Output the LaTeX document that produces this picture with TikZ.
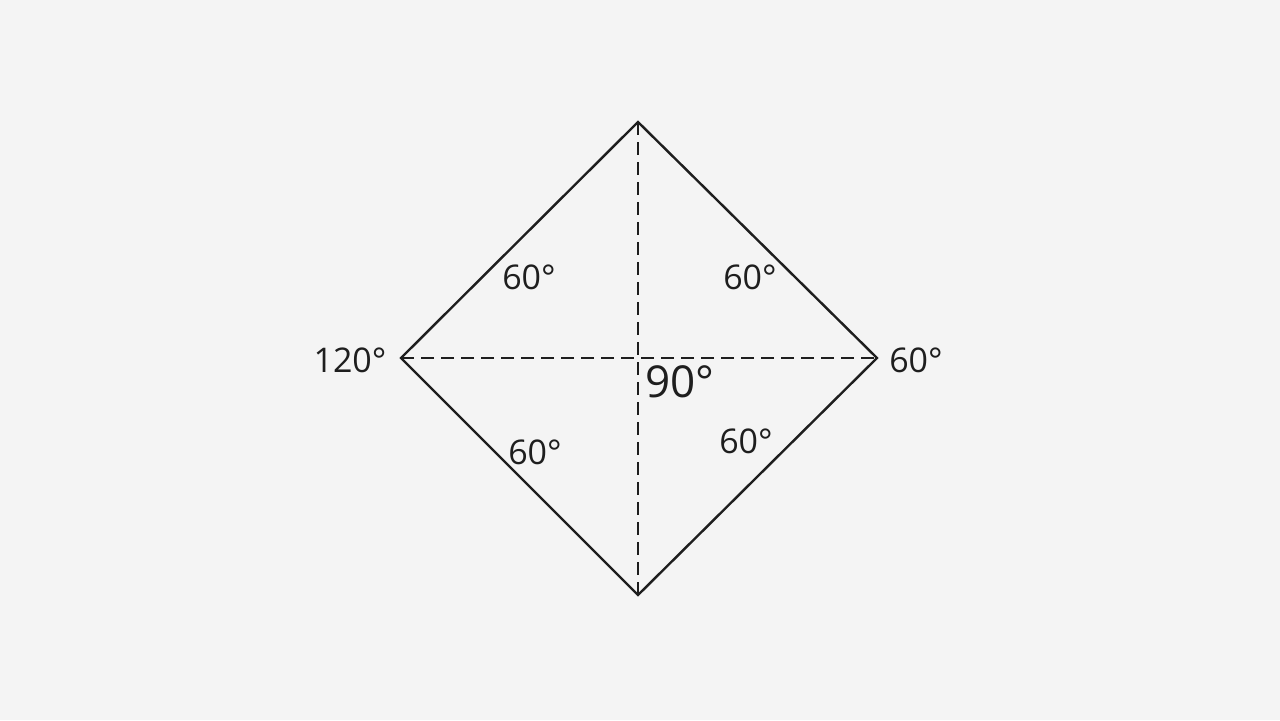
\documentclass[tikz,border=0pt]{standalone}
\usepackage{fontspec}
\setmainfont{Open Sans}
\usepackage{tikz}
\usetikzlibrary{positioning}
\definecolor{paper}{RGB}{244, 244, 244}
\definecolor{ink}{RGB}{30, 30, 30}

\begin{document}
\begin{tikzpicture}[x=0.5pt,y=0.5pt,line width = 1.2pt]
	\fill[paper] (0,0) rectangle (1280,720);
	\useasboundingbox (0,0) rectangle (1280,720);
	
	\coordinate (top) at(638,598);
	\coordinate (left) at(401,362);
	\coordinate (right) at(877,362);
	\coordinate (bottom) at(638,125);
	
	\draw [ink,line join=miter] (top) -- (right) -- (bottom) -- (left) -- cycle;
	
	\draw [ink,dash pattern=on 6.5pt off 3.5pt] (left) -- (right);
	\draw [ink,dash pattern=on 6.5pt off 3.5pt] (top) -- (bottom);
	
	\node[text=ink,font=\fontsize{17}{20}\selectfont] (ang1) at(529,443) {60°};
	\node[text=ink,font=\fontsize{17}{20}\selectfont] (ang2) at(750,443) {60°};
	\node[text=ink,font=\fontsize{17}{20}\selectfont] (ang3) at(535,268) {60°};
	\node[text=ink,font=\fontsize{17}{20}\selectfont] (ang4) at(746,279) {60°};
	\node[text=ink,font=\fontsize{17}{20}\selectfont] (angleft) at(350,360) {120°};
	\node[text=ink,font=\fontsize{17}{20}\selectfont] (angright) at(916,360) {60°};
	\node[text=ink,font=\fontsize{22}{26}\selectfont] (angmid) at(680,338) {90°};
	
\end{tikzpicture}
\end{document}
